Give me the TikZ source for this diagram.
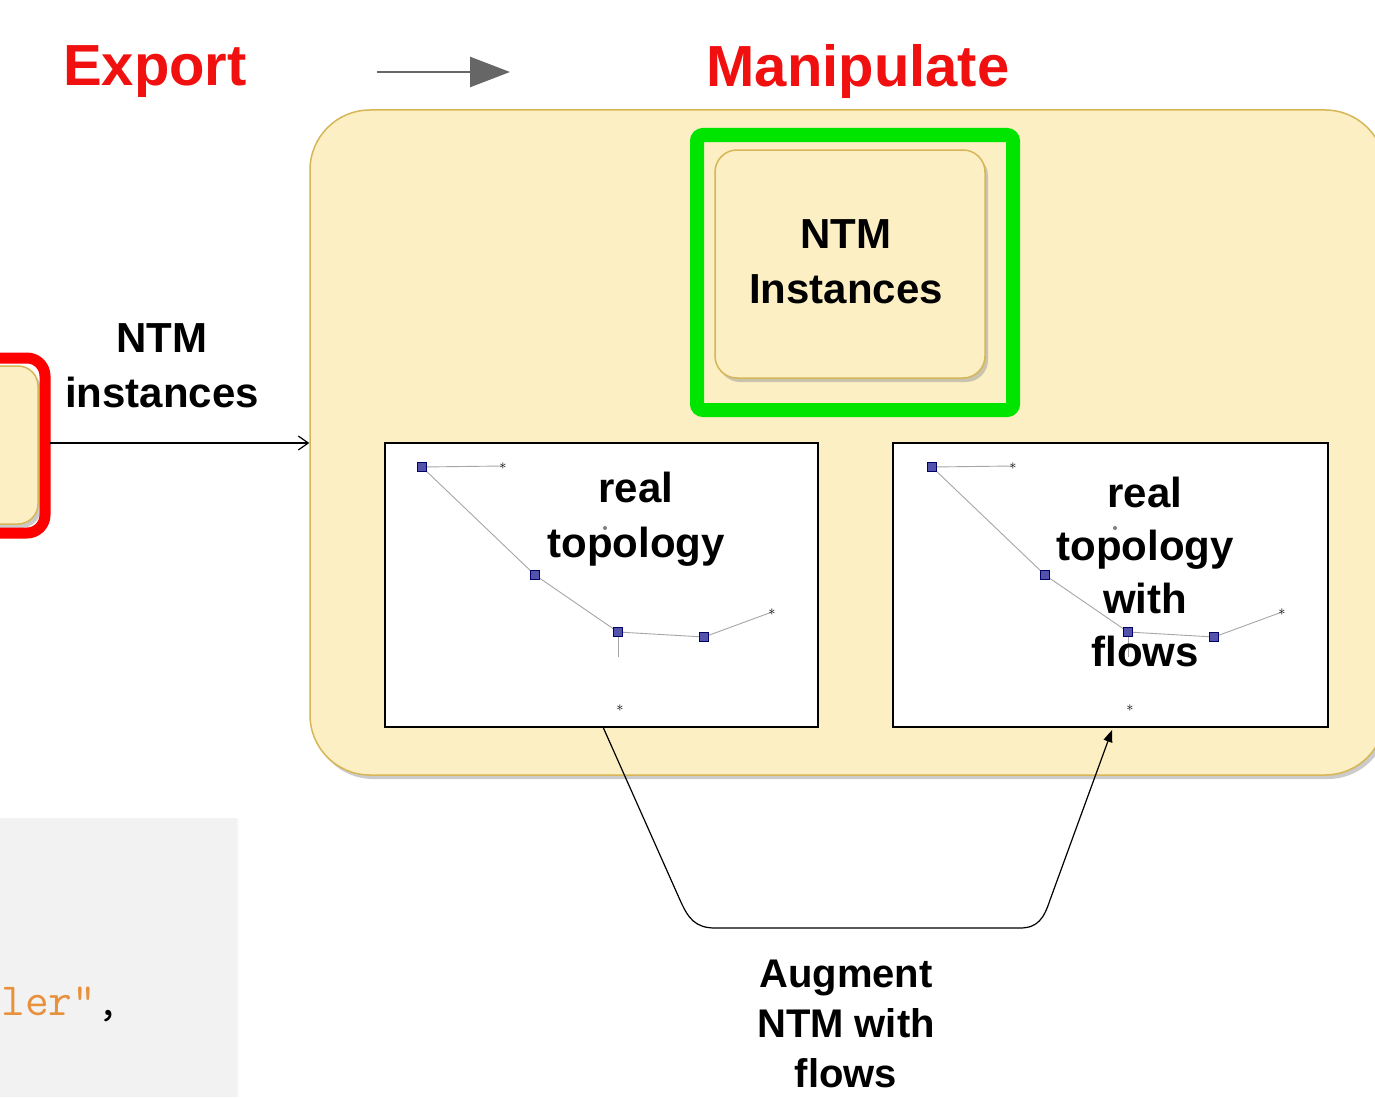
\documentclass[tikz,border=0pt]{standalone}
\usepackage{fontspec}
\setmainfont{Liberation Sans}
\usetikzlibrary{arrows.meta,shadows}
\definecolor{ybox}{HTML}{FCEFC4}
\definecolor{yedge}{HTML}{D6B656}
\definecolor{titlered}{HTML}{F01010}
\definecolor{code}{HTML}{E8913C}
\begin{document}
\begin{tikzpicture}[x=1pt,y=-1pt,
  title/.style={text=titlered,font=\fontsize{58}{64}\selectfont\bfseries},
  lbl/.style={font=\fontsize{42}{55}\selectfont\bfseries,align=center},
  ybx/.style={fill=ybox,draw=yedge,line width=1.5pt,drop shadow={shadow xshift=3pt,shadow yshift=-4pt,fill=black!40}},
  img/.style={draw=black,line width=1.6pt,fill=white},
  sw/.style={draw=blue!40!black,fill=blue!35!gray,minimum size=9pt,inner sep=0pt,line width=0.6pt},
  tl/.style={draw=gray!70,line width=0.9pt},
  conn/.style={draw=black,line width=1.2pt}]
\useasboundingbox (0,0) rectangle (1375,1097);
\fill[white] (0,0) rectangle (1375,1097);
% titles
\node[title] (export) at (155,72) {Export};
\node[title] (manip) at (858,72) {Manipulate};
\coordinate (ta) at (377,72); \coordinate (tb) at (510,72);
\draw[gray!80!black,line width=2.5pt,-{Triangle[length=40pt,width=30pt]}] (ta) -- (tb);
% container
\draw[ybx,rounded corners=60pt] (310,110) rectangle (1385,775);
\node[inner sep=0pt] (cont) at (310,443) {};
% NTM instances
\draw[green!90!black,line width=14pt,rounded corners=6pt] (697,135) rectangle (1013,410);
\draw[ybx,rounded corners=22pt] (715,150) rectangle (985,378);
\node[lbl] (ntm) at (846,262) {NTM\\Instances};
% left box
\draw[ybx,rounded corners=20pt] (-60,366) rectangle (38,524);
\draw[red,line width=11pt,rounded corners=18pt] (-60,358) rectangle (45,533);
\coordinate (lb) at (50,443);
\draw[conn,-{Straight Barb[length=10pt,width=14pt]}] (lb) -- (cont);
\node[lbl] (lab) at (162,366) {NTM\\instances};
% image boxes
\draw[img] (385,443) rectangle (818,727);
\draw[img] (893,443) rectangle (1328,727);
\foreach \dx in {0,510}{
 \begin{scope}[xshift=\dx]
 \draw[tl] (422,467) -- (535,575) -- (618,632) -- (704,637) -- (772,612);
 \draw[tl] (422,467) -- (503,466);
 \draw[tl] (618,632) -- (618,657);
 \foreach \p in {(422,467),(535,575),(618,632),(704,637)} \node[sw] at \p {};
 \node[font=\fontsize{14}{14}\selectfont] at (503,466) {$\ast$};
 \node[font=\fontsize{14}{14}\selectfont] at (772,612) {$\ast$};
 \node[font=\fontsize{14}{14}\selectfont] at (620,708) {$\ast$};
 \fill[gray] (605,528) circle (2pt);
 \end{scope}}
\node[lbl] (t1) at (636,519) {real\\topology};
\node[lbl,font=\fontsize{42}{53}\selectfont\bfseries] (t2) at (1145,572) {real\\topology\\with\\flows};
% connector
\coordinate (c1) at (603,727); \coordinate (c2) at (1112,730);
\draw[conn,-{Triangle[length=12pt,width=9pt]}] (c1) -- (680,900) .. controls (688,918) and (695,928) .. (715,928) -- (1020,928) .. controls (1038,928) and (1044,918) .. (1050,900) -- (c2);
\node[lbl,font=\fontsize{40}{50}\selectfont\bfseries] (aug) at (846,1024) {Augment\\NTM with\\flows};
% code panel
\fill[gray!10] (0,818) rectangle (238,1097);
\draw[gray!5,line width=2pt] (238,818) -- (238,1097);
\node[anchor=base east,inner sep=0pt,font=\ttfamily\fontsize{46}{46}\selectfont] (code) at (120,1015) {\textcolor{code}{ler"}\textcolor{black}{,}};
\end{tikzpicture}
\end{document}
